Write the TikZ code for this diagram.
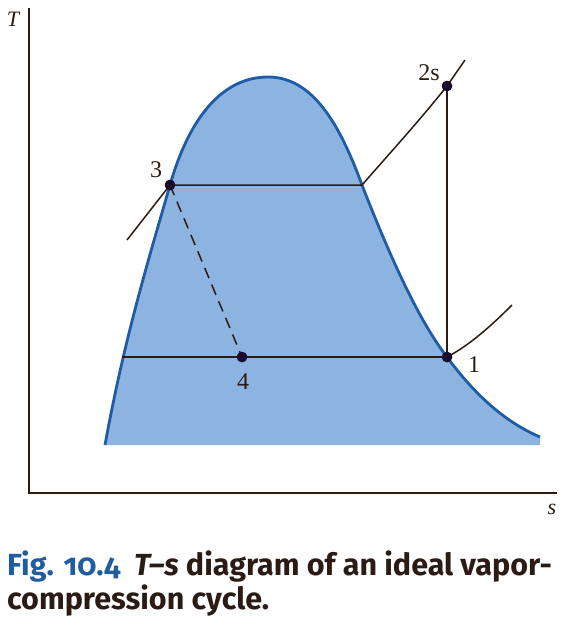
\documentclass[tikz,border=0pt]{standalone}
\usepackage{fontspec}
\setmainfont{Liberation Serif}
\newfontfamily\capfont[Numbers=OldStyle]{Fira Sans}
\definecolor{domefill}{HTML}{8DB4E0}
\definecolor{domeline}{HTML}{1F5CA6}
\definecolor{linecol}{HTML}{2A1C14}
\definecolor{dotcol}{HTML}{1C0C2C}
\definecolor{figblue}{HTML}{1F5DA0}
\begin{document}
\begin{tikzpicture}[x=1pt,y=-1pt,
  proc/.style={draw=linecol,line width=1.5pt},
  axis/.style={draw=linecol,line width=1.5pt},
  statept/.style={circle,fill=dotcol,inner sep=0pt,minimum size=10.5pt},
  lbl/.style={font=\fontsize{24}{24}\selectfont,text=linecol,inner sep=0pt},
  captext/.style={font=\capfont\bfseries\fontsize{30.5}{31}\selectfont,anchor=base west,inner sep=0pt}]
\useasboundingbox (0,0) rectangle (564,630);
% dome fill
\fill[domefill] (105,445) .. controls (125,335) and (150,255) .. (170,185)
  .. controls (190,115) and (224,77) .. (268,77)
  .. controls (313,77) and (340,125) .. (362,185)
  .. controls (392,262) and (420,322) .. (447,357)
  .. controls (475,395) and (505,422) .. (540,437)
  -- (540,445) -- (105,445) -- cycle;
\draw[domeline,line width=2.8pt] (105,445) .. controls (125,335) and (150,255) .. (170,185)
  .. controls (190,115) and (224,77) .. (268,77)
  .. controls (313,77) and (340,125) .. (362,185)
  .. controls (392,262) and (420,322) .. (447,357)
  .. controls (475,395) and (505,422) .. (540,437);
% axes
\coordinate (origin) at (29,493);
\coordinate (ytop) at (29,8);
\coordinate (xend) at (557,493);
\draw[axis] (ytop) -- (origin) -- (xend);
\node[lbl,font=\fontsize{22}{22}\selectfont\itshape] (Tlab) at (13,19) {T};
\node[lbl,font=\fontsize{22}{22}\selectfont\itshape] (slab) at (552,509) {s};
% coordinates
\coordinate (sat) at (362,185);
\coordinate (sub) at (127,240);
\coordinate (top) at (465,60);
\coordinate (left4) at (122,357);
\coordinate (sup1) at (512,305);
\node[statept] (p3) at (170,185) {};
\node[statept] (p2s) at (447,86) {};
\node[statept] (p1) at (447,357) {};
\node[statept] (p4) at (242,357) {};
% process lines
\draw[proc] (sub) -- (p3.center) -- (sat) .. controls (390,153) and (420,120) .. (p2s.center) -- (top);
\draw[proc] (p1.center) -- (p2s.center);
\draw[proc] (left4) -- (p1.center);
\draw[proc] (p1.center) .. controls (470,345) and (492,325) .. (sup1);
\draw[proc,dash pattern=on 11pt off 7pt] (p3.center) -- (p4.center);
\node[statept] at (p3) {};
\node[statept] at (p2s) {};
\node[statept] at (p1) {};
\node[statept] at (p4) {};
% labels
\node[lbl] (l3) at (156,170) {3};
\node[lbl] (l2s) at (429,73) {2s};
\node[lbl] (l1) at (474,365) {1};
\node[lbl] (l4) at (243,382) {4};
% caption
\node[captext] (cap1) at (7,575) {\textcolor{figblue}{Fig. 10.4}\hspace{0.45em}\textcolor{linecol}{\itshape T–s\/\upshape{} diagram of an ideal vapor-}};
\node[captext] (cap2) at (7,609) {\textcolor{linecol}{compression cycle.}};
\end{tikzpicture}
\end{document}
